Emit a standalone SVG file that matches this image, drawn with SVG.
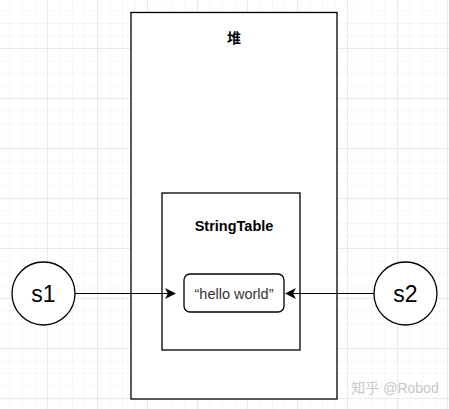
<svg xmlns="http://www.w3.org/2000/svg" width="449" height="409" viewBox="0 0 449 409">
<defs>
<pattern id="minor" x="-2" y="-1" width="12.5" height="12.5" patternUnits="userSpaceOnUse">
<path d="M12.5 0V12.5M0 12.5H12.5" fill="none" stroke="#f0f0f0" stroke-width="1"/>
</pattern>
<pattern id="major" x="-2" y="-1" width="50" height="50" patternUnits="userSpaceOnUse">
<path d="M50 0V50M0 50H50" fill="none" stroke="#dcdcdc" stroke-width="1"/>
</pattern>
<marker id="arr" viewBox="0 0 10 10" refX="9" refY="5" markerWidth="11" markerHeight="11" markerUnits="userSpaceOnUse" orient="auto">
<path d="M0 0L10 5L0 10L2.5 5Z" fill="#000"/>
</marker>
</defs>
<style>
.box{fill:#fff;stroke:#000;stroke-width:1.3}
.t{font-family:"Liberation Sans",Arial,"Noto Sans CJK SC",sans-serif;text-anchor:middle;dominant-baseline:central;fill:#000}
.edge{stroke:#000;stroke-width:1.2;fill:none}
</style>
<rect width="449" height="409" fill="#fff"/>
<rect width="449" height="409" fill="url(#minor)"/>
<rect width="449" height="409" fill="url(#major)"/>
<g id="heap">
<rect class="box" x="131" y="12.5" width="206" height="386.5"/>
<text class="t" x="234" y="38" font-size="14" font-weight="bold">堆</text>
</g>
<g id="stringtable">
<rect class="box" x="162" y="193" width="138" height="157"/>
<text class="t" x="234" y="226" font-size="14.5" font-weight="bold">StringTable</text>
</g>
<g id="hello">
<rect class="box" x="184" y="274" width="100" height="38" rx="6"/>
<text class="t" x="234" y="294" font-size="14.5" style="fill:#333">“hello world”</text>
</g>
<g id="s1">
<circle class="box" cx="43.5" cy="293.5" r="31.5"/>
<text class="t" x="43.5" y="294" font-size="23">s1</text>
</g>
<g id="s2">
<circle class="box" cx="405.5" cy="293.5" r="31.5"/>
<text class="t" x="405.5" y="294" font-size="23">s2</text>
</g>
<g id="connectors">
<path class="edge" d="M75 293.5H175" marker-end="url(#arr)"/>
<path class="edge" d="M374 293.5H286" marker-end="url(#arr)"/>
</g>
<text class="t" x="395" y="388" font-size="14" style="fill:#c8c8c8">知乎 @Robod</text>
</svg>
